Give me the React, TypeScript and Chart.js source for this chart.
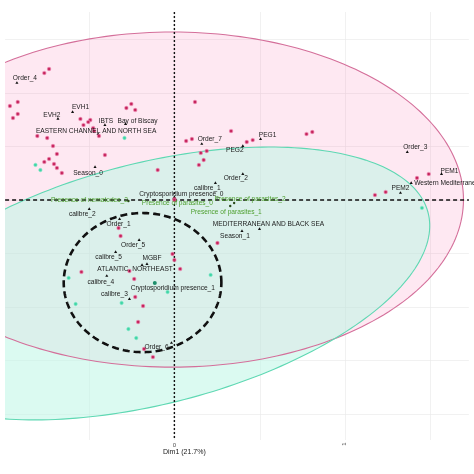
import React, { useEffect, useRef } from "react";
import { Chart, registerables } from "chart.js";
Chart.register(...registerables);

// ---------- axis ranges / grid ----------
const xMin = -0.9943;
const xMax = 1.7299;
const yMin = -1.1215;
const yMax = 0.8785;
const xGridValues = [-0.5, 0, 0.5, 1, 1.5];
const yGridValues = [0.75, 0.5, 0.25, 0, -0.25, -0.5, -0.75, -1];
const xTickValues = [0, 1];
const xTickLabels = ["0", "1"];
const xAxisTitle = "Dim1 (21.7%)";

// ---------- individuals, group 1 (pink) ----------
const pinkX = [-0.764, -0.736, -0.966, -0.92, -0.92, -0.948, -0.552, -0.494, -0.506, -0.534, -0.282, -0.253, -0.23, -0.477, -0.471, -0.805, -0.747, -0.443, -0.713, -0.69, -0.736, -0.764, -0.707, -0.69, -0.661, -0.408, -0.098, 0.121, 0.333, 0.069, 0.103, 0.19, 0.155, 0.172, 0.144, 0.425, 0.46, 0.776, 0.81, 1.494, 1.425, 1.241, 1.178, 0.0, -0.328, -0.316, 0.253, -0.264, -0.546, 0.0, -0.011, 0.034, -0.236, -0.23, -0.184, -0.213, -0.178, -0.126];
const pinkY = [0.593, 0.612, 0.439, 0.458, 0.402, 0.383, 0.379, 0.374, 0.364, 0.35, 0.43, 0.449, 0.421, 0.336, 0.322, 0.299, 0.29, 0.299, 0.252, 0.215, 0.192, 0.178, 0.168, 0.15, 0.126, 0.21, 0.14, 0.458, 0.322, 0.276, 0.285, 0.229, 0.22, 0.187, 0.164, 0.271, 0.28, 0.308, 0.318, 0.121, 0.103, 0.037, 0.023, 0.0, -0.131, -0.168, -0.201, -0.332, -0.336, -0.28, -0.252, -0.322, -0.369, -0.453, -0.495, -0.57, -0.696, -0.734];

// ---------- individuals, group 2 (teal) ----------
const tealX = [-0.293, -0.816, -0.787, 1.454, -0.621, -0.04, 0.213, -0.31, -0.58, -0.27, -0.224];
const tealY = [0.29, 0.164, 0.14, -0.037, -0.364, -0.43, -0.35, -0.481, -0.486, -0.603, -0.645];

// ---------- active categories (black triangles) ----------
const catLabels = ["Order_4", "EVH1", "EVH2", "IBTS", "Bay of Biscay", "EASTERN CHANNEL AND NORTH SEA", "Season_0", "Order_7", "PEG1", "PEG2", "Order_2", "Order_3", "PEM1", "Western Mediterranean", "PEM2", "calibre_1", "calibre_2", "Order_1", "MEDITERRANEAN AND BLACK SEA", "Season_1", "Order_5", "calibre_5", "MGBF", "ATLANTIC, NORTHEAST", "calibre_4", "calibre_3", "Order_6"];
const catX = [-0.925, -0.598, -0.684, -0.408, -0.287, -0.448, -0.466, 0.161, 0.506, 0.402, 0.402, 1.368, 1.569, 1.391, 1.328, 0.241, -0.5, -0.322, 0.5, 0.397, -0.207, -0.345, -0.161, -0.19, -0.397, -0.264, -0.017];
const catY = [0.547, 0.411, 0.379, 0.35, 0.355, 0.308, 0.154, 0.262, 0.285, 0.252, 0.121, 0.224, 0.121, 0.079, 0.033, 0.079, -0.042, -0.089, -0.136, -0.145, -0.187, -0.243, -0.299, -0.304, -0.355, -0.463, -0.668];

// ---------- supplementary categories ----------
const cryptoLabels = ["Cryptosporidium presence_0", "Cryptosporidium presence_1"];
const cryptoX = [0.0, -0.115];
const cryptoY = [0.005, -0.388];

const presLabels = ["Presence of nematodes_2", "Presence of parasites_0", "Presence of parasites_2", "Presence of parasites_1"];
const presX = [-0.27, 0.006, 0.351, 0.328];
const presY = [-0.005, -0.005, -0.014, -0.028];

// ---------- confidence ellipses (center, semi-axes, rotation in degrees) ----------
const ellipseCX = [-0.012, -0.132];
const ellipseCY = [0.002, -0.39];
const ellipseA = [1.71, 1.657];
const ellipseB = [0.783, 0.569];
const ellipseRot = [0, 10.65];

const clusterCX = -0.187;
const clusterCY = -0.386;
const clusterA = 0.463;
const clusterB = 0.325;

// ---------- layout (pixel label offsets, not data) ----------
const catOffsets: [number, number, string?][] = [
  [8, -5], [8, -5], [-6, -4], [1, -4], [12, -3], [-2, -3], [-7, 6], [8, -5], [7, -4], [-8, 4], [-7, 4], [8, -5], [8, -3], [3, 0, "left"], [0, -5], [-8, 5], [-7, 5], [-1, 5], [9, -5], [-7, 5], [-6, 5], [-7, 5], [5, -6], [-7, 4], [-6, 6], [-15, -5], [-15, 4],
];
const cryptoOffsets: [number, number][] = [[7, -5], [18, 5]];
const presOffsets: [number, number][] = [[-39, -1], [2, 2], [16, -4], [-4, 6]];

const FONT = '"Liberation Sans", Arial, sans-serif';

function ellipsePath(ctx: CanvasRenderingContext2D, sx: any, sy: any, cx: number, cy: number, a: number, b: number, deg: number) {
  const th = (deg * Math.PI) / 180;
  ctx.beginPath();
  const n = 240;
  for (let k = 0; k <= n; k++) {
    const t = (k / n) * Math.PI * 2;
    const dx = a * Math.cos(t) * Math.cos(th) - b * Math.sin(t) * Math.sin(th);
    const dy = a * Math.cos(t) * Math.sin(th) + b * Math.sin(t) * Math.cos(th);
    const px = sx.getPixelForValue(cx + dx);
    const py = sy.getPixelForValue(cy + dy);
    if (k === 0) ctx.moveTo(px, py);
    else ctx.lineTo(px, py);
  }
  ctx.closePath();
}

const decor = {
  id: "mcaDecor",
  beforeDatasetsDraw(chart: any) {
    const { ctx, chartArea: a, scales } = chart;
    const sx = scales.x;
    const sy = scales.y;
    ctx.save();
    ctx.beginPath();
    ctx.rect(a.left, a.top, a.right - a.left, a.bottom - a.top);
    ctx.clip();
    // grid
    ctx.strokeStyle = "#ebebeb";
    ctx.lineWidth = 0.7;
    for (const v of xGridValues) {
      const px = Math.round(sx.getPixelForValue(v)) + 0.5;
      ctx.beginPath();
      ctx.moveTo(px, a.top);
      ctx.lineTo(px, a.bottom);
      ctx.stroke();
    }
    for (const v of yGridValues) {
      const py = Math.round(sy.getPixelForValue(v)) + 0.5;
      ctx.beginPath();
      ctx.moveTo(a.left, py);
      ctx.lineTo(a.right, py);
      ctx.stroke();
    }
    // ellipses
    const fills = ["rgba(246, 110, 175, 0.16)", "rgba(190, 246, 230, 0.55)"];
    const strokes = ["#d46f9a", "#5fd8b3"];
    for (let i = 0; i < ellipseCX.length; i++) {
      ellipsePath(ctx, sx, sy, ellipseCX[i], ellipseCY[i], ellipseA[i], ellipseB[i], ellipseRot[i]);
      ctx.fillStyle = fills[i];
      ctx.fill();
    }
    for (let i = 0; i < ellipseCX.length; i++) {
      ellipsePath(ctx, sx, sy, ellipseCX[i], ellipseCY[i], ellipseA[i], ellipseB[i], ellipseRot[i]);
      ctx.strokeStyle = strokes[i];
      ctx.lineWidth = 1.1;
      ctx.stroke();
    }
    // reference lines
    const x0 = sx.getPixelForValue(0);
    const y0 = sy.getPixelForValue(0);
    ctx.strokeStyle = "#111";
    ctx.lineWidth = 1.4;
    ctx.setLineDash([4, 3]);
    ctx.beginPath();
    ctx.moveTo(a.left, y0);
    ctx.lineTo(a.right, y0);
    ctx.stroke();
    ctx.setLineDash([2, 2]);
    ctx.beginPath();
    ctx.moveTo(x0, a.top);
    ctx.lineTo(x0, a.bottom);
    ctx.stroke();
    // cluster dashed ellipse
    ctx.setLineDash([7, 4]);
    ctx.lineWidth = 2.6;
    ellipsePath(ctx, sx, sy, clusterCX, clusterCY, clusterA, clusterB, 0);
    ctx.stroke();
    ctx.setLineDash([]);
    ctx.restore();
  },
  afterDatasetsDraw(chart: any) {
    const { ctx } = chart;
    ctx.save();
    ctx.font = `6.6px ${FONT}`;
    ctx.textBaseline = "middle";
    const drawSet = (dsIndex: number, labels: string[], offs: any[], color: string) => {
      const meta = chart.getDatasetMeta(dsIndex);
      ctx.fillStyle = color;
      labels.forEach((lab, j) => {
        const el = meta.data[j];
        const o = offs[j];
        ctx.textAlign = o[2] === "left" ? "left" : "center";
        ctx.fillText(lab, el.x + o[0], el.y + o[1]);
      });
    };
    drawSet(2, catLabels, catOffsets, "#1a1a1a");
    drawSet(3, cryptoLabels, cryptoOffsets, "#1a1a1a");
    drawSet(4, presLabels, presOffsets, "#4e9f2f");
    ctx.restore();
  },
  afterDraw(chart: any) {
    const { ctx, chartArea: a, scales } = chart;
    const sx = scales.x;
    ctx.save();
    ctx.fillStyle = "#4d4d4d";
    ctx.font = `6px ${FONT}`;
    ctx.textBaseline = "middle";
    xTickValues.forEach((v, i) => {
      const px = sx.getPixelForValue(v);
      if (i === 0) {
        ctx.textAlign = "center";
        ctx.fillText(xTickLabels[i], px, a.bottom + 5);
      } else {
        ctx.save();
        ctx.translate(px, a.bottom + 4);
        ctx.rotate(-Math.PI / 2);
        ctx.textAlign = "center";
        ctx.fillText(xTickLabels[i], 0, 0);
        ctx.restore();
      }
    });
    ctx.fillStyle = "#1a1a1a";
    ctx.font = `7px ${FONT}`;
    ctx.textAlign = "center";
    ctx.fillText(xAxisTitle, sx.getPixelForValue(0) + 10, a.bottom + 12);
    ctx.restore();
  },
};

export default function App() {
  const ref = useRef<HTMLCanvasElement | null>(null);
  useEffect(() => {
    if (!ref.current) return;
    const toPts = (xs: number[], ys: number[]) => xs.map((x, i) => ({ x, y: ys[i] }));
    const chart = new Chart(ref.current, {
      type: "scatter",
      data: {
        datasets: [
          {
            data: toPts(tealX, tealY),
            pointRadius: 1.7,
            backgroundColor: "#3fd6a6",
            borderColor: "rgba(130, 230, 200, 0.6)",
            borderWidth: 1,
          },
          {
            data: toPts(pinkX, pinkY),
            pointRadius: 1.7,
            backgroundColor: "#c4235a",
            borderColor: "rgba(235, 125, 170, 0.6)",
            borderWidth: 1.1,
          },
          {
            data: toPts(catX, catY),
            pointStyle: "triangle",
            pointRadius: 1.8,
            backgroundColor: "#111",
            borderColor: "#111",
            borderWidth: 0,
          },
          {
            data: toPts(cryptoX, cryptoY),
            pointRadius: 2,
            backgroundColor: ["#8a1c3c", "#1f8f6c"],
            borderWidth: 0,
          },
          {
            data: toPts(presX, presY),
            pointRadius: 1.2,
            backgroundColor: "#2a4a1a",
            borderWidth: 0,
          },
        ],
      },
      options: {
        responsive: false,
        animation: false,
        devicePixelRatio: 1,
        events: [],
        layout: { padding: { left: 0, right: 0, top: 12, bottom: 34 } },
        scales: {
          x: { type: "linear", display: false, min: xMin, max: xMax },
          y: { type: "linear", display: false, min: yMin, max: yMax },
        },
        plugins: { legend: { display: false }, tooltip: { enabled: false } },
      },
      plugins: [decor],
    } as any);
    return () => chart.destroy();
  }, []);
  return (
    <div style={{ position: "fixed", left: 0, top: 0, width: 474, height: 474, background: "#fff" }}>
      <canvas ref={ref} width={474} height={474} style={{ display: "block" }} />
    </div>
  );
}
